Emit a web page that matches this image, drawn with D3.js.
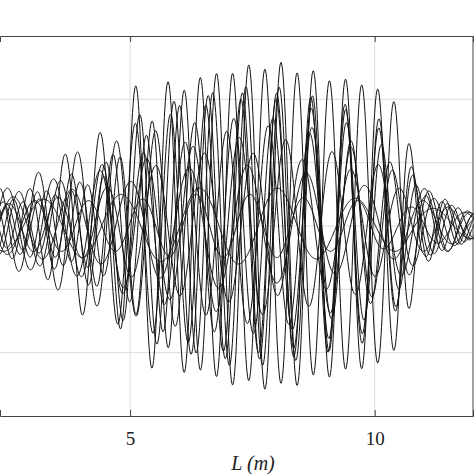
<!DOCTYPE html>
<html><head><meta charset="utf-8">
<script src="https://cdn.jsdelivr.net/npm/d3@7"></script>
<style>body{margin:0;background:#fff}</style>
</head><body><svg id="chart"></svg>
<script>
// envelope knots (m) and per-curve amplitude
let knots = [2, 3, 4, 4.5, 5, 6, 7, 8, 9, 10, 10.5, 11, 12];
let envelopes = [
    [0.3, 0.4, 0.6, 0.8, 1.3, 2.1, 2.5, 2.6, 2.4, 2.2, 1.9, 0.5, 0.2],
    [0.3, 0.4, 0.6, 0.8, 2.2, 2.3, 2.4, 2.5, 2.3, 2.2, 1.9, 0.5, 0.2],
    [0.4, 0.6, 1.4, 1.5, 1.6, 1.8, 2.0, 2.0, 1.8, 1.4, 1.0, 0.5, 0.2],
    [0.5, 0.8, 1.2, 1.3, 1.4, 1.6, 1.7, 1.7, 1.5, 1.2, 0.9, 0.6, 0.2],
    [0.5, 0.7, 0.8, 0.9, 1.0, 1.2, 1.4, 1.4, 1.2, 1.0, 0.8, 0.6, 0.2],
    [0.4, 0.5, 0.6, 0.6, 0.7, 0.9, 1.0, 0.9, 0.8, 0.6, 0.5, 0.4, 0.2],
    [0.4, 0.4, 0.5, 0.5, 0.5, 0.6, 0.6, 0.6, 0.5, 0.4, 0.4, 0.3, 0.2],
    [0.5, 0.4, 0.4, 0.4, 0.4, 0.5, 0.5, 0.5, 0.4, 0.4, 0.3, 0.3, 0.2],
    [0.3, 0.5, 0.9, 1.0, 1.7, 2.0, 2.1, 2.1, 2.0, 1.8, 1.2, 0.5, 0.2],
    [0.3, 0.5, 0.7, 1.1, 1.2, 1.9, 2.2, 2.2, 2.0, 1.6, 1.3, 0.6, 0.2],
    [0.4, 0.6, 0.8, 1.0, 1.1, 1.3, 1.5, 1.6, 1.4, 1.1, 0.8, 0.5, 0.2],
    [0.3, 0.4, 0.5, 0.6, 0.8, 1.1, 1.2, 1.1, 1.0, 0.8, 0.6, 0.4, 0.2]
];
let wavelengths = [0.66, 0.66, 0.72, 0.8, 0.95, 1.2, 1.6, 1.1, 0.7, 0.68, 0.85, 1.0];
let phases = [0, 3.14, 1.0, 2.2, 4.0, 0.5, 1.5, 3.0, 5.2, 2.6, 0.3, 4.6];
let xTicks = [5, 10];
let yGrid = [-2, -1, 0, 1, 2];

let width = 474, height = 474;
let margin = { top: 36, bottom: 58, left: 0, right: 1 };
let svg = d3.select('#chart').attr('width', width).attr('height', height);

let xScale = d3.scaleLinear().domain([2.34, 12.01]).range([0, width - margin.right]);
let yScale = d3.scaleLinear().domain([-3, 3]).range([height - margin.bottom, margin.top]);

// grid
svg.selectAll('.gx').data(xTicks).enter().append('line')
    .attr('x1', d => xScale(d)).attr('x2', d => xScale(d))
    .attr('y1', yScale(3)).attr('y2', yScale(-3))
    .attr('stroke', '#dcdcdc');
svg.selectAll('.gy').data(yGrid).enter().append('line')
    .attr('x1', 0).attr('x2', xScale(12.01))
    .attr('y1', d => yScale(d)).attr('y2', d => yScale(d))
    .attr('stroke', '#dcdcdc');

// curves
let xs = d3.range(2.3, 12.05, 0.01);
let line = d3.line().x(d => xScale(d[0])).y(d => yScale(d[1]));
envelopes.forEach((env, i) => {
    let envScale = d3.scaleLinear().domain(knots).range(env).clamp(true);
    let pts = xs.map(x => [x, envScale(x) * Math.sin(2 * Math.PI * x / wavelengths[i] + phases[i])]);
    svg.append('path').attr('d', line(pts))
        .attr('fill', 'none').attr('stroke', '#111').attr('stroke-width', 1);
});

// box + ticks
let axisBottom = d3.axisBottom(xScale).tickValues(xTicks).tickSize(-6).tickPadding(16);
svg.append('g').attr('transform', `translate(0,${yScale(-3)})`).call(axisBottom)
    .call(g => g.select('.domain').attr('stroke', '#444'))
    .call(g => g.selectAll('line').attr('stroke', '#444'))
    .call(g => g.selectAll('text').attr('font-family', 'Liberation Serif').attr('font-size', 19).attr('fill', '#222'));
let axisTop = d3.axisTop(xScale).tickValues(xTicks).tickSize(-6).tickFormat('');
svg.append('g').attr('transform', `translate(0,${yScale(3)})`).call(axisTop)
    .call(g => g.select('.domain').attr('stroke', '#444'))
    .call(g => g.selectAll('line').attr('stroke', '#444'));
svg.append('line').attr('x1', xScale(12.01)).attr('x2', xScale(12.01))
    .attr('y1', yScale(3)).attr('y2', yScale(-3)).attr('stroke', '#444');

svg.append('text').attr('x', 253).attr('y', 470).attr('text-anchor', 'middle')
    .attr('font-family', 'Liberation Serif').attr('font-style', 'italic')
    .attr('font-size', 20).attr('fill', '#222').text('L (m)');
</script></body></html>
